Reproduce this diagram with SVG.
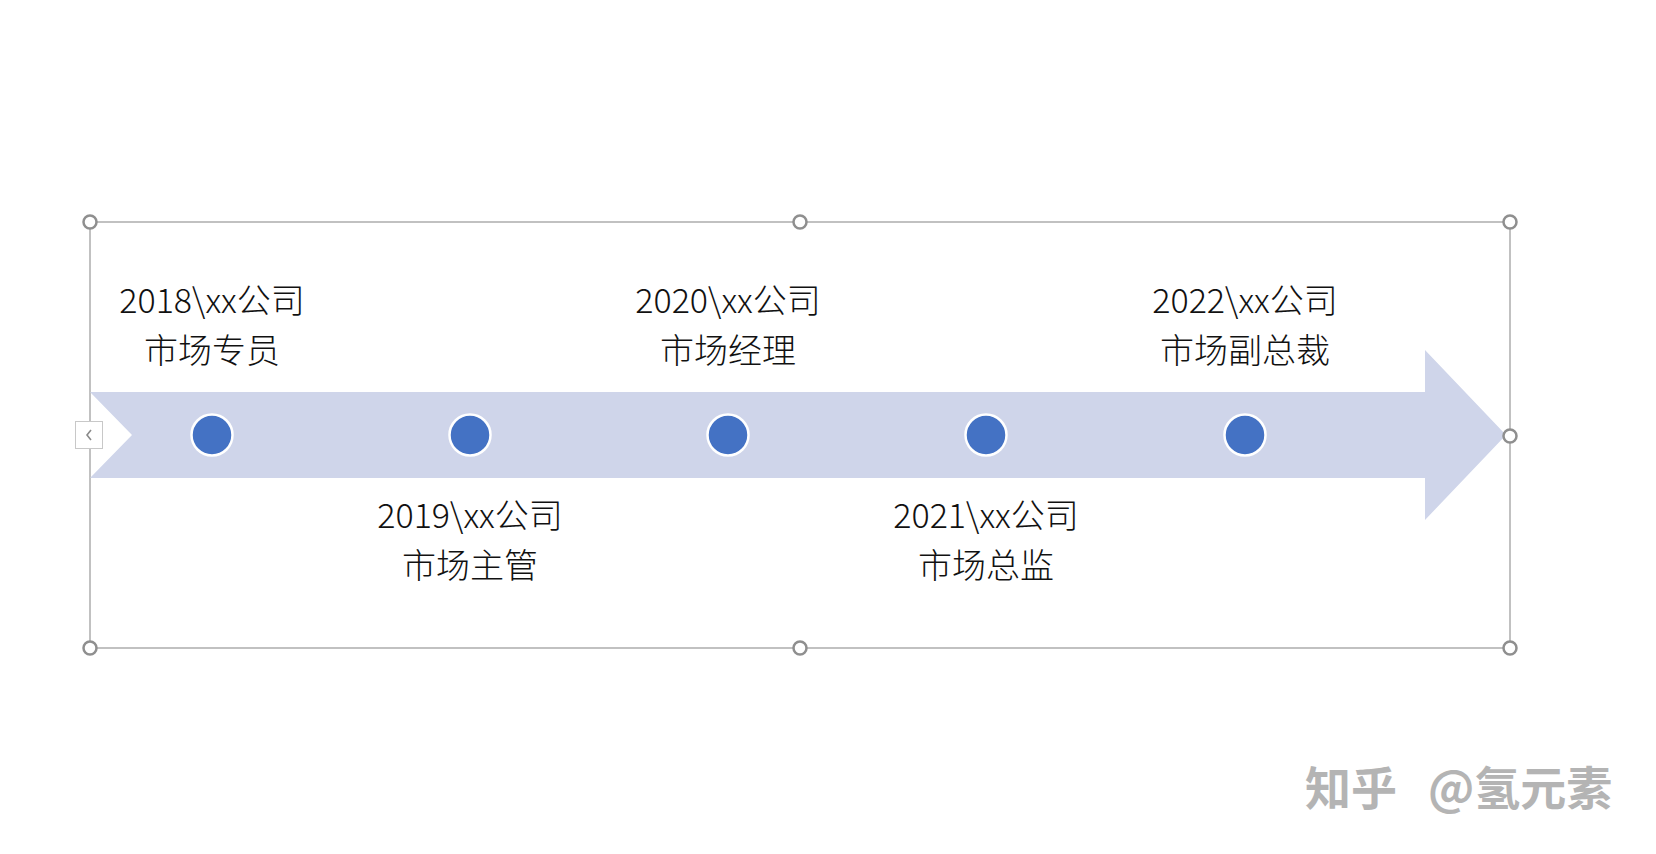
<svg xmlns="http://www.w3.org/2000/svg" width="1656" height="854" viewBox="0 0 1656 854">
<style>
.lbl{font-family:"Noto Sans CJK SC","Liberation Sans",sans-serif;font-size:34px;font-weight:300;fill:#111;text-anchor:middle}
.dot{fill:#4472C4;stroke:#ffffff;stroke-width:2.5}
.hdl{fill:#ffffff;stroke:#8f8f8f;stroke-width:2.5}
.wm{font-family:"Noto Sans CJK SC",sans-serif;font-size:46px;font-weight:bold;fill:#b4b4b4}
</style>
<rect width="1656" height="854" fill="#ffffff"/>
<g id="frame">
<rect x="90" y="222" width="1420" height="426" fill="none" stroke="#a0a0a0" stroke-width="1.3"/>
</g>
<g id="arrow">
<path d="M90 392 L1425 392 L1425 350 L1506 435 L1425 520 L1425 478 L90 478 L132 435 Z" fill="#CFD5EA"/>
</g>
<g id="handles">
<circle class="hdl" cx="90" cy="222" r="6.5"/>
<circle class="hdl" cx="800" cy="222" r="6.5"/>
<circle class="hdl" cx="1510" cy="222" r="6.5"/>
<circle class="hdl" cx="1510" cy="436" r="6.5"/>
<circle class="hdl" cx="90" cy="648" r="6.5"/>
<circle class="hdl" cx="800" cy="648" r="6.5"/>
<circle class="hdl" cx="1510" cy="648" r="6.5"/>
<rect x="75.5" y="421.5" width="27" height="27" fill="#ffffff" stroke="#c8c8c8" stroke-width="1"/>
<path d="M91 430 L87 435 L91 440" fill="none" stroke="#8a8a8a" stroke-width="1.6"/>
</g>
<g id="connectors"></g>
<g id="n2018">
<circle class="dot" cx="212" cy="435" r="20.5"/>
<text class="lbl" x="212" y="313">2018\xx公司</text>
<text class="lbl" x="212" y="363">市场专员</text>
</g>
<g id="n2019">
<circle class="dot" cx="470" cy="435" r="20.5"/>
<text class="lbl" x="470" y="528">2019\xx公司</text>
<text class="lbl" x="470" y="578">市场主管</text>
</g>
<g id="n2020">
<circle class="dot" cx="728" cy="435" r="20.5"/>
<text class="lbl" x="728" y="313">2020\xx公司</text>
<text class="lbl" x="728" y="363">市场经理</text>
</g>
<g id="n2021">
<circle class="dot" cx="986" cy="435" r="20.5"/>
<text class="lbl" x="986" y="528">2021\xx公司</text>
<text class="lbl" x="986" y="578">市场总监</text>
</g>
<g id="n2022">
<circle class="dot" cx="1245" cy="435" r="20.5"/>
<text class="lbl" x="1245" y="313">2022\xx公司</text>
<text class="lbl" x="1245" y="363">市场副总裁</text>
</g>
<g id="watermark">
<text class="wm" x="1305" y="805">知乎</text>
<text class="wm" x="1428" y="805">@氢元素</text>
</g>
</svg>
